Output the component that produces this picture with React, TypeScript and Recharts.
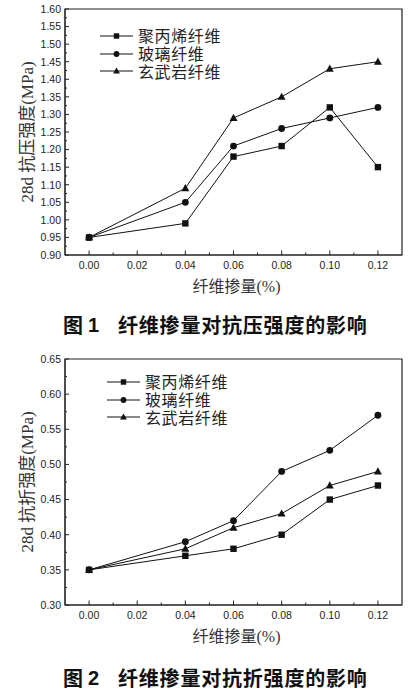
import React from 'react';
import { LineChart, Line, XAxis, YAxis, ReferenceArea, Legend, Label } from 'recharts';

// fibre dosage (%)
const dosage = [0, 0.04, 0.06, 0.08, 0.1, 0.12];
const seriesNames = ['聚丙烯纤维', '玻璃纤维', '玄武岩纤维'];

// 28d compressive strength (MPa)
const compPP = [0.95, 0.99, 1.18, 1.21, 1.32, 1.15];
const compGlass = [0.95, 1.05, 1.21, 1.26, 1.29, 1.32];
const compBasalt = [0.95, 1.09, 1.29, 1.35, 1.43, 1.45];

// 28d flexural strength (MPa)
const flexPP = [0.35, 0.37, 0.38, 0.4, 0.45, 0.47];
const flexGlass = [0.35, 0.39, 0.42, 0.49, 0.52, 0.57];
const flexBasalt = [0.35, 0.38, 0.41, 0.43, 0.47, 0.49];

const xMajor = [0, 0.02, 0.04, 0.06, 0.08, 0.1, 0.12];
const xMinor = [0.01, 0.03, 0.05, 0.07, 0.09, 0.11];

const compMajor = [0.9, 0.95, 1.0, 1.05, 1.1, 1.15, 1.2, 1.25, 1.3, 1.35, 1.4, 1.45, 1.5, 1.55, 1.6];
const compMinor = [0.925, 0.975, 1.025, 1.075, 1.125, 1.175, 1.225, 1.275, 1.325, 1.375, 1.425, 1.475, 1.525, 1.575];

const flexMajor = [0.3, 0.35, 0.4, 0.45, 0.5, 0.55, 0.6, 0.65];
const flexMinor = [0.325, 0.375, 0.425, 0.475, 0.525, 0.575, 0.625];

const X_DOMAIN: [number, number] = [-0.01, 0.13];
const TICK_FONT = "'Liberation Sans', Arial, sans-serif";
const TITLE_FONT = "'Liberation Serif', 'Noto Sans CJK SC', serif";
const CJK_FONT = "'Noto Sans CJK SC', sans-serif";

type MarkerKind = 'square' | 'circle' | 'triangle';
const markers: MarkerKind[] = ['square', 'circle', 'triangle'];

const Marker = ({ kind, cx, cy, s = 1 }: { kind: MarkerKind; cx: number; cy: number; s?: number }) => {
  if (kind === 'square') {
    const h = 3.2 * s;
    return <rect x={cx - h} y={cy - h} width={h * 2} height={h * 2} fill="#111" />;
  }
  if (kind === 'circle') {
    return <circle cx={cx} cy={cy} r={3.4 * s} fill="#111" />;
  }
  const r = 4.2 * s;
  return (
    <polygon
      points={`${cx},${cy - r} ${cx + r * 0.95},${cy + r * 0.7} ${cx - r * 0.95},${cy + r * 0.7}`}
      fill="#111"
    />
  );
};

const makeDot = (kind: MarkerKind) => (props: any) => {
  const { cx, cy, index } = props;
  if (cx == null || cy == null) return <g key={`d-${index}`} />;
  return (
    <g key={`d-${kind}-${index}`}>
      <Marker kind={kind} cx={cx} cy={cy} />
    </g>
  );
};

// ticks point inward; only majors carry labels
const XTick = (props: any) => {
  const { x, y, payload } = props;
  const major = xMajor.includes(payload.value);
  return (
    <g>
      <line x1={x} y1={y} x2={x} y2={y - (major ? 4.5 : 2.5)} stroke="#222" />
      {major && (
        <text x={x} y={y + 14} textAnchor="middle" fontSize={10.5} fontFamily={TICK_FONT} fill="#222">
          {payload.value.toFixed(2)}
        </text>
      )}
    </g>
  );
};

const makeYTick = (majors: number[]) => (props: any) => {
  const { x, y, payload } = props;
  const major = majors.includes(payload.value);
  return (
    <g>
      <line x1={x} y1={y} x2={x + (major ? 4 : 2)} y2={y} stroke="#222" />
      {major && (
        <text x={x - 4} y={y + 3.8} textAnchor="end" fontSize={10.5} fontFamily={TICK_FONT} fill="#222">
          {payload.value.toFixed(2)}
        </text>
      )}
    </g>
  );
};

const yTitle = (text: string) => (props: any) => {
  const vb = props.viewBox;
  const cx = vb.x + 27;
  const cy = vb.y + vb.height / 2;
  return (
    <text
      x={cx}
      y={cy}
      transform={`rotate(-90, ${cx}, ${cy})`}
      textAnchor="middle"
      dominantBaseline="central"
      fontSize={17}
      fontFamily={TITLE_FONT}
      fill="#333"
    >
      {text}
    </text>
  );
};

const xTitle = (props: any) => {
  const vb = props.viewBox;
  return (
    <text
      x={vb.x + vb.width / 2 + 3}
      y={vb.y + 31}
      textAnchor="middle"
      dominantBaseline="central"
      fontSize={16}
      fontFamily={TITLE_FONT}
      fill="#333"
    >
      纤维掺量(%)
    </text>
  );
};

const LegendBox = () => (
  <div>
    {seriesNames.map((name, i) => (
      <div key={name} style={{ display: 'flex', alignItems: 'center', height: 17.7 }}>
        <svg width={33} height={12}>
          <line x1={0} y1={6} x2={33} y2={6} stroke="#111" strokeWidth={1} />
          <Marker kind={markers[i]} cx={16.5} cy={6} s={0.85} />
        </svg>
        <div
          style={{
            marginLeft: 5,
            fontFamily: CJK_FONT,
            fontSize: 16,
            letterSpacing: 0.6,
            color: '#222',
            height: 17,
            lineHeight: '17px',
            whiteSpace: 'nowrap',
          }}
        >
          {name}
        </div>
      </div>
    ))}
  </div>
);

interface PanelProps {
  values: number[][];
  yDomain: [number, number];
  yMajor: number[];
  yMinor: number[];
  title: string;
  legendTop: number;
  legendLeft: number;
  top: number;
}

const StrengthPanel = ({ values, yDomain, yMajor, yMinor, title, legendTop, legendLeft, top }: PanelProps) => {
  const data = dosage.map((x, i) => ({ x, s0: values[0][i], s1: values[1][i], s2: values[2][i] }));
  const yTicks = [...yMajor, ...yMinor].sort((a, b) => a - b);
  const xTicks = [...xMajor, ...xMinor].sort((a, b) => a - b);
  return (
    <div style={{ position: 'absolute', left: 0, top }}>
      <LineChart width={417} height={300} data={data} margin={{ top: 9, right: 15, left: 0, bottom: 0 }}>
        <XAxis
          dataKey="x"
          type="number"
          domain={X_DOMAIN}
          ticks={xTicks}
          interval={0}
          tickSize={0}
          tickMargin={0}
          tickLine={false}
          tick={<XTick />}
          stroke="#222"
          height={45}
          allowDataOverflow
        >
          <Label content={xTitle} />
        </XAxis>
        <YAxis
          type="number"
          domain={yDomain}
          ticks={yTicks}
          interval={0}
          tickSize={0}
          tickMargin={0}
          tickLine={false}
          tick={makeYTick(yMajor)}
          stroke="#222"
          width={65}
          allowDataOverflow
        >
          <Label content={yTitle(title)} />
        </YAxis>
        <ReferenceArea
          x1={X_DOMAIN[0]}
          x2={X_DOMAIN[1]}
          y1={yDomain[0]}
          y2={yDomain[1]}
          fill="none"
          stroke="#222"
          strokeWidth={1.2}
          ifOverflow="visible"
        />
        {markers.map((kind, i) => (
          <Line
            key={kind}
            type="linear"
            dataKey={`s${i}`}
            stroke="#111"
            strokeWidth={1}
            dot={makeDot(kind)}
            activeDot={false}
            isAnimationActive={false}
          />
        ))}
        {/* vertical + centered so the legend takes no room from the plot */}
        <Legend
          layout="vertical"
          align="center"
          verticalAlign="middle"
          content={() => <LegendBox />}
          wrapperStyle={{ top: legendTop, left: legendLeft, width: 'auto' }}
        />
      </LineChart>
    </div>
  );
};

const Caption = ({ num, text, top }: { num: string; text: string; top: number }) => {
  const base: React.CSSProperties = {
    position: 'absolute',
    top,
    fontFamily: CJK_FONT,
    fontWeight: 700,
    fontSize: 20,
    color: '#111',
    lineHeight: '22px',
    whiteSpace: 'nowrap',
  };
  return (
    <>
      <span style={{ ...base, left: 63 }}>图</span>
      <span style={{ ...base, left: 88, fontFamily: TICK_FONT }}>{num}</span>
      <span style={{ ...base, left: 118, letterSpacing: 0.8 }}>{text}</span>
    </>
  );
};

export default function App() {
  return (
    <div style={{ position: 'absolute', left: 0, top: 0, width: 417, height: 693, background: '#fff' }}>
      <StrengthPanel
        values={[compPP, compGlass, compBasalt]}
        yDomain={[0.9, 1.6]}
        yMajor={compMajor}
        yMinor={compMinor}
        title="28d 抗压强度(MPa)"
        legendTop={27}
        legendLeft={100}
        top={0}
      />
      <Caption num="1" text="纤维掺量对抗压强度的影响" top={314} />
      <StrengthPanel
        values={[flexPP, flexGlass, flexBasalt]}
        yDomain={[0.3, 0.65]}
        yMajor={flexMajor}
        yMinor={flexMinor}
        title="28d 抗折强度(MPa)"
        legendTop={23}
        legendLeft={107}
        top={350}
      />
      <Caption num="2" text="纤维掺量对抗折强度的影响" top={667} />
    </div>
  );
}
